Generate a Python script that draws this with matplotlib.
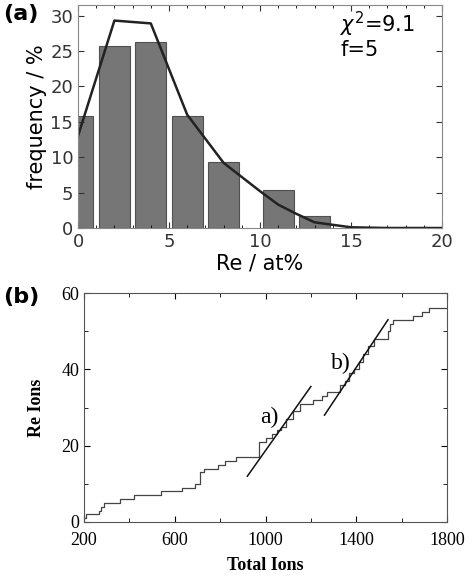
import matplotlib
matplotlib.use("Agg")
import matplotlib.pyplot as plt

bar_x = [0, 2, 4, 6, 8, 11, 13]
bar_h = [15.8, 25.7, 26.3, 15.8, 9.3, 5.3, 1.7]
fit_x = [0, 2, 4, 6, 8, 10, 11, 12, 13, 15, 17, 20]
fit_y = [13, 29.3, 28.9, 16, 9.2, 5.2, 3.3, 2.0, 0.8, 0.1, 0, 0]

step_x = [200, 210, 265, 275, 290, 360, 420, 540, 630, 690, 710, 730, 790, 820, 870, 970, 1000, 1030,
          1050, 1070, 1090, 1120, 1150, 1210, 1250, 1270, 1330, 1350, 1370, 1390, 1410, 1430, 1450,
          1480, 1540, 1550, 1560, 1650, 1690, 1720, 1800]
step_y = [1, 2, 3, 4, 5, 6, 7, 8, 9, 10, 13, 14, 15, 16, 17, 21, 22, 23, 24, 25, 27, 29, 31, 32, 33, 34,
          36, 37, 39, 40, 42, 44, 46, 48, 50, 52, 53, 54, 55, 56, 56]
line_a_x = [920, 1200]; line_a_y = [12, 35.5]
line_b_x = [1260, 1540]; line_b_y = [28, 53]

fig = plt.figure(figsize=(4.74, 5.76), dpi=100)
W, H = 474, 576
ax1 = fig.add_axes([78/W, 1-228/H, 364/W, 223/H])
ax1.bar(bar_x, bar_h, width=1.7, color="#767676", edgecolor="#505050", linewidth=0.8)
ax1.plot(fit_x, fit_y, color="#222222", lw=1.8)
ax1.set_xlim(0, 20); ax1.set_ylim(0, 31.5)
ax1.set_xticks([0, 5, 10, 15, 20]); ax1.set_yticks([0, 5, 10, 15, 20, 25, 30])
ax1.set_xticks(range(0, 21), minor=True)
ax1.tick_params(labelsize=13, direction="in", top=True, right=True, length=4, colors="#333333")
ax1.tick_params(which="minor", direction="in", top=True, right=True, length=2)
for s in ax1.spines.values(): s.set_color("#888888")
ax1.set_xlabel("Re / at%", fontsize=15, labelpad=2)
ax1.set_ylabel("frequency / %", fontsize=15, labelpad=2)
ax1.text(0.72, 0.77, "$\\chi^2$=9.1\nf=5", transform=ax1.transAxes, fontsize=15, linespacing=1.1)
fig.text(3/W, 1-20/H, "(a)", fontsize=16, fontweight="bold")

ax2 = fig.add_axes([84/W, 1-522/H, 363/W, 229/H])
ax2.step(step_x, step_y, where="post", color="#444444", lw=0.9)
ax2.plot(line_a_x, line_a_y, color="#111111", lw=1.1)
ax2.plot(line_b_x, line_b_y, color="#111111", lw=1.1)
ax2.set_xlim(200, 1800); ax2.set_ylim(0, 60)
ax2.set_xticks([200, 600, 1000, 1400, 1800]); ax2.set_xticks(range(200, 1801, 200), minor=True)
ax2.set_yticks([0, 20, 40, 60]); ax2.set_yticks(range(0, 61, 10), minor=True)
ax2.tick_params(labelsize=13, direction="in", top=True, right=True, length=4)
ax2.tick_params(axis="x", pad=7)
ax2.tick_params(which="minor", direction="in", top=True, right=True, length=3)
for s in ax2.spines.values(): s.set_color("#555555")
for lab in ax2.get_xticklabels() + ax2.get_yticklabels():
    lab.set_family("Liberation Serif")
ax2.set_xlabel("Total Ions", fontsize=13, fontweight="bold", family="Liberation Serif", labelpad=6)
ax2.set_ylabel("Re Ions", fontsize=13, fontweight="bold", family="Liberation Serif", labelpad=12)
ax2.text(975, 26, "a)", fontsize=17, family="Liberation Serif")
ax2.text(1290, 40, "b)", fontsize=17, family="Liberation Serif")
fig.text(3/W, 1-303/H, "(b)", fontsize=16, fontweight="bold")

fig.savefig("out.png", dpi=100)
